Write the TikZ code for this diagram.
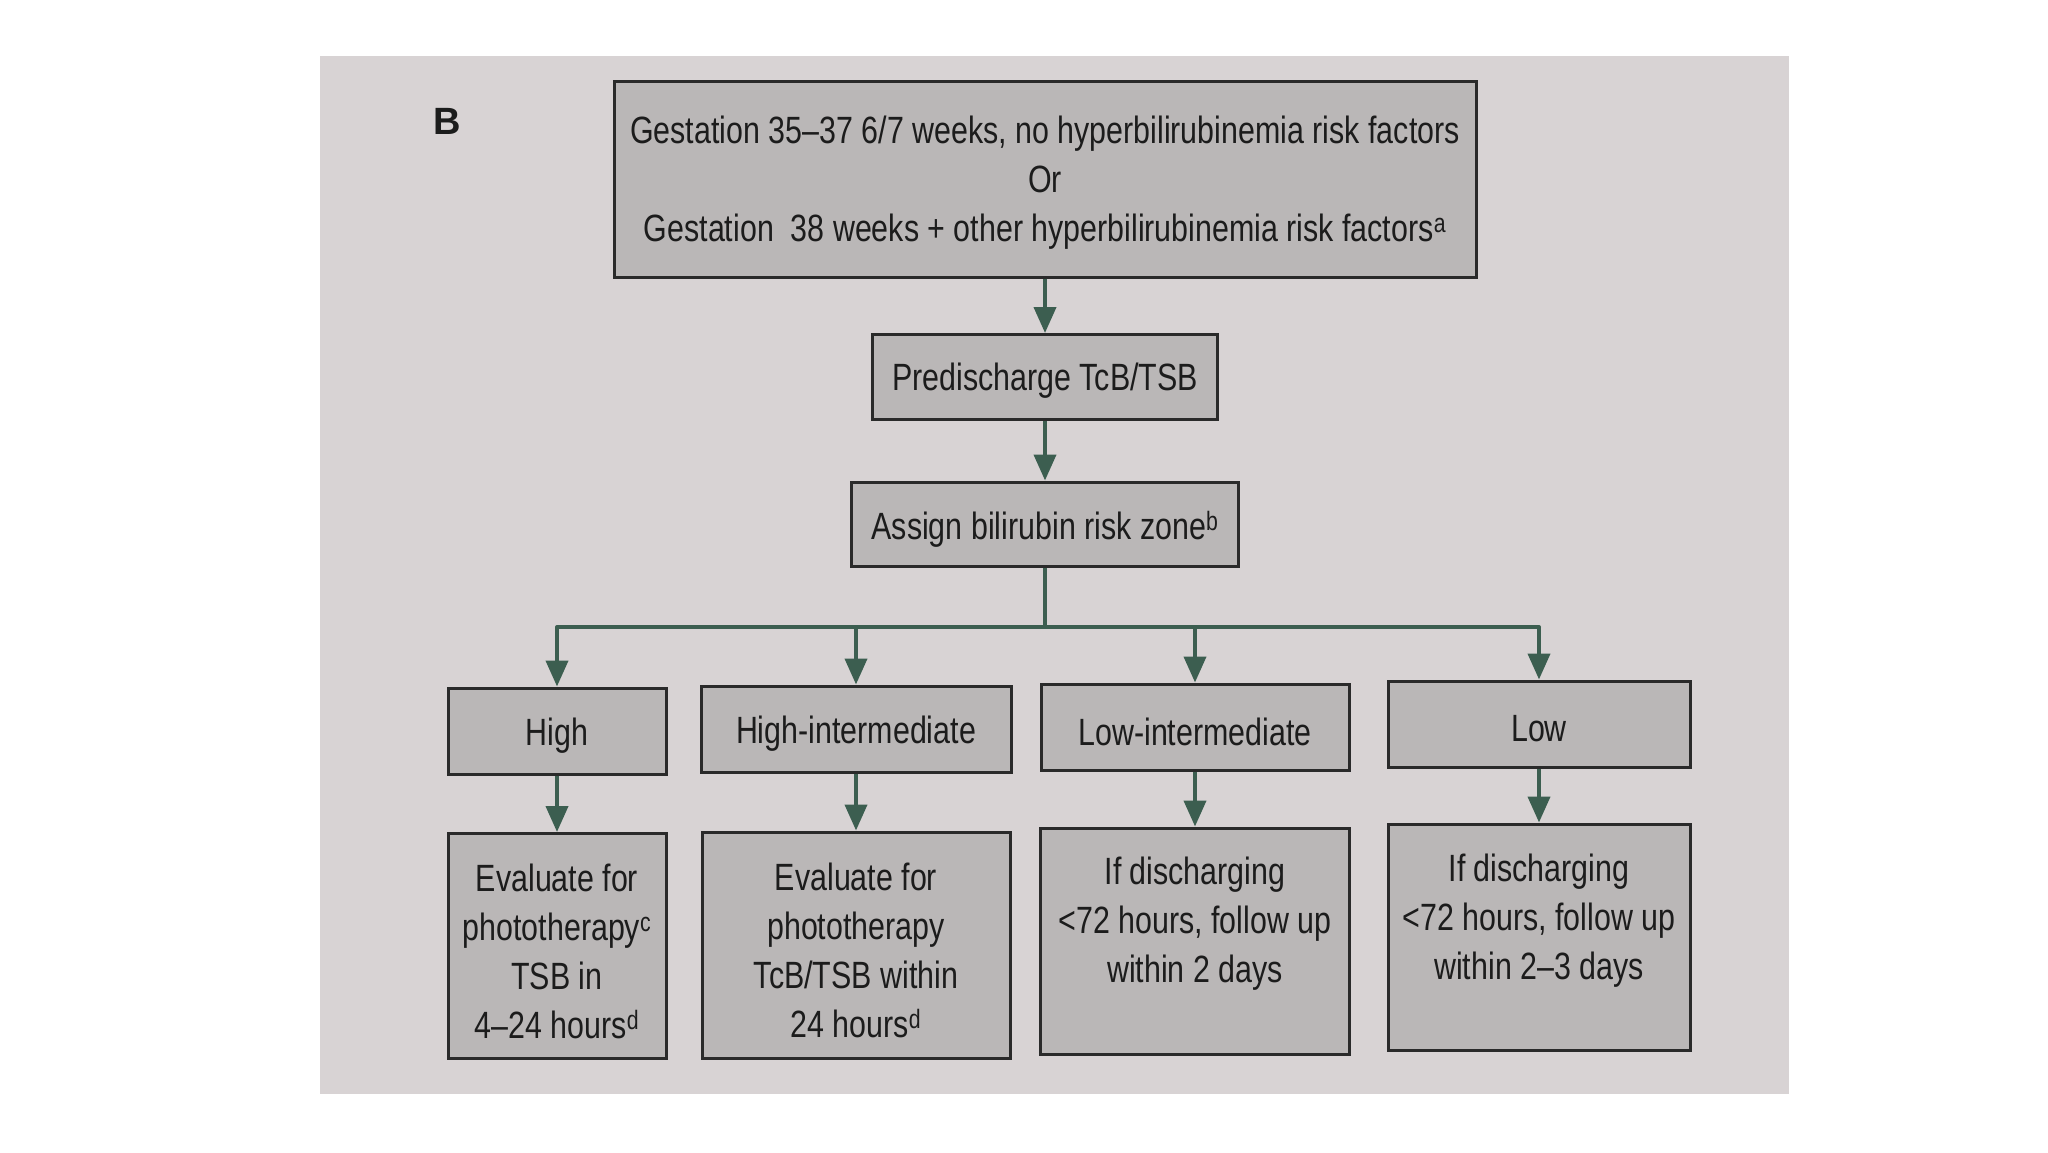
\documentclass[tikz,border=0pt]{standalone}
\usepackage{fontspec}
\setmainfont{Liberation Sans}[FakeStretch=0.80]
\newfontfamily\labfont{Liberation Sans}
\usetikzlibrary{arrows.meta}
\definecolor{photobg}{HTML}{D8D3D4}
\definecolor{boxfill}{HTML}{BAB7B7}
\definecolor{boxline}{HTML}{2A2A2A}
\definecolor{arrgreen}{HTML}{3C5E50}
\definecolor{txtcol}{HTML}{1C1C1C}
\tikzset{
  fbox/.style={draw=boxline, line width=3pt, fill=boxfill, rectangle, inner sep=0pt},
  ctxt/.style={inner sep=0pt, text=txtcol, align=center, font=\fontsize{38}{49}\selectfont},
  btxt/.style={ctxt, anchor=north},
  conn/.style={draw=arrgreen, line width=4pt},
  arr/.style={draw=arrgreen, line width=4pt, -{Triangle[length=26pt,width=22pt]}},
}
\begin{document}
\begin{tikzpicture}[x=1pt,y=-1pt]
\useasboundingbox (0,0) rectangle (2048,1152);
\fill[white] (0,0) rectangle (2048,1152);
\fill[photobg] (320,56) rectangle (1789,1094);

\node[text=txtcol, font=\labfont\bfseries\fontsize{38}{40}\selectfont] (lab) at (447,121) {B};

% boxes
\node[fbox, minimum width=862pt, minimum height=196pt] (top) at (1045,179) {};
\node[fbox, minimum width=345pt, minimum height=85pt] (pred) at (1045,377) {};
\node[fbox, minimum width=387pt, minimum height=84pt] (assign) at (1045,524) {};
\node[fbox, minimum width=218pt, minimum height=86pt] (high) at (557,731) {};
\node[fbox, minimum width=310pt, minimum height=86pt] (hint) at (856,729) {};
\node[fbox, minimum width=308pt, minimum height=86pt] (lint) at (1195,727) {};
\node[fbox, minimum width=302pt, minimum height=86pt] (low) at (1539,724) {};
\node[fbox, minimum width=218pt, minimum height=225pt] (b1) at (557,946) {};
\node[fbox, minimum width=308pt, minimum height=226pt] (b2) at (856,945) {};
\node[fbox, minimum width=309pt, minimum height=226pt] (b3) at (1195,941) {};
\node[fbox, minimum width=302pt, minimum height=226pt] (b4) at (1539,937) {};

% texts
\node[ctxt] (ttop) at ([yshift=-4pt]top.center)
  {Gestation 35--37 6/7 weeks, no hyperbilirubinemia risk factors\\Or\\Gestation\ \ 38 weeks + other hyperbilirubinemia risk factors\textsuperscript{a}};
\node[ctxt] (tpred) at ([yshift=-4pt]pred.center) {Predischarge TcB/TSB};
\node[ctxt] (tassign) at ([yshift=-5pt]assign.center) {Assign bilirubin risk zone\textsuperscript{b}};
\node[ctxt] (thigh) at ([yshift=-5pt]high.center) {High};
\node[ctxt] (thint) at ([yshift=-5pt]hint.center) {High-intermediate};
\node[ctxt] (tlint) at ([yshift=-5pt]lint.center) {Low-intermediate};
\node[ctxt] (tlow) at ([yshift=-5pt]low.center) {Low};
\node[ctxt] (t1) at ([yshift=-5pt]b1.center)
  {Evaluate for\\phototherapy\textsuperscript{c}\\TSB in\\4--24 hours\textsuperscript{d}};
\node[ctxt] (t2) at ([yshift=-5pt]b2.center)
  {Evaluate for\\phototherapy\\TcB/TSB within\\24 hours\textsuperscript{d}};
\node[btxt] (t3) at (1195,857) {If discharging\\<72 hours, follow up\\within 2 days};
\node[btxt] (t4) at (1539,854) {If discharging\\<72 hours, follow up\\within 2--3 days};

\coordinate (busL) at (557,627);
\coordinate (busR) at (1539,627);

\draw[arr] (top.south) -- (pred.north);
\draw[arr] (pred.south) -- (assign.north);
\draw[conn] (assign.south) -- (assign.south |- busL);
\draw[conn, line cap=round] (busL) -- (busR);
\draw[arr] (high.north |- busL) -- (high.north);
\draw[arr] (hint.north |- busL) -- (hint.north);
\draw[arr] (lint.north |- busL) -- (lint.north);
\draw[arr] (low.north |- busL) -- (low.north);
\draw[arr] (high.south) -- (high.south |- b1.north);
\draw[arr] (hint.south) -- (hint.south |- b2.north);
\draw[arr] (lint.south) -- (lint.south |- b3.north);
\draw[arr] (low.south) -- (low.south |- b4.north);
\end{tikzpicture}
\end{document}
